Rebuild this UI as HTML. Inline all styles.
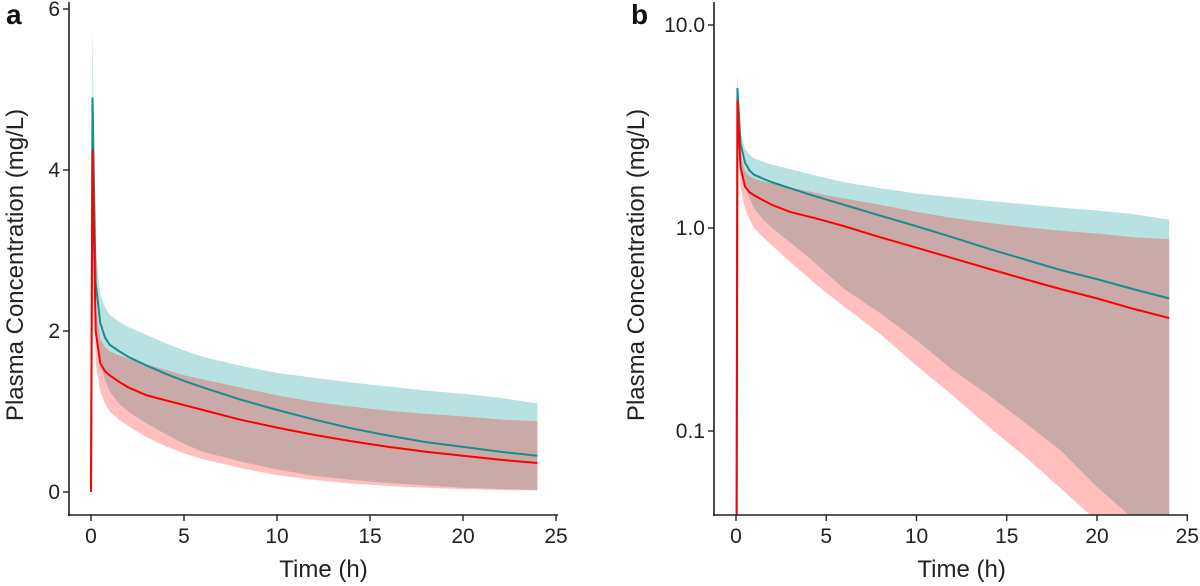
<!DOCTYPE html>
<html><head><meta charset="utf-8"><style>
html,body{margin:0;background:#fff;overflow:hidden;width:1200px;height:586px}
svg{display:block;font-family:"Liberation Sans",Arial,sans-serif}
</style></head><body>
<svg width="1200" height="586" viewBox="0 0 1200 586">
<defs>
<clipPath id="clipB"><rect x="715" y="0" width="480" height="515"/></clipPath>
</defs>
<g id="panelA"></g>
<g id="panelB"></g>
</svg>
<script>
const times=[0,0.08,0.25,0.5,0.75,1,1.5,2,3,4,5,6,8,10,12,14,16,18,20,22,24];
const tealMedian=[0,4.9,2.6,2.1,1.92,1.83,1.75,1.68,1.57,1.47,1.38,1.3,1.15,1.02,0.9,0.79,0.7,0.62,0.56,0.5,0.45];
const tealUpper=[0,5.8,3.0,2.45,2.3,2.2,2.12,2.05,1.95,1.85,1.76,1.68,1.57,1.48,1.42,1.36,1.31,1.26,1.22,1.17,1.1];
const tealLower=[0,4.0,2.0,1.6,1.4,1.25,1.1,1.0,0.85,0.72,0.6,0.5,0.38,0.28,0.2,0.15,0.11,0.08,0.053,0.037,0.027];
const redMedian=[0,4.25,2.0,1.6,1.5,1.45,1.37,1.3,1.2,1.14,1.08,1.02,0.9,0.8,0.71,0.63,0.56,0.5,0.45,0.4,0.36];
const redUpper=[0,4.3,2.3,1.9,1.8,1.75,1.7,1.66,1.58,1.52,1.45,1.4,1.3,1.2,1.12,1.06,1.01,0.97,0.94,0.9,0.88];
const redLower=[0,3.6,1.6,1.25,1.1,1.0,0.9,0.82,0.68,0.57,0.48,0.41,0.3,0.21,0.15,0.105,0.075,0.052,0.036,0.025,0.018];
const xTicks=[0,5,10,15,20,25];
const yTicksA=[0,2,4,6];
const yTicksB=[0.1,1.0,10.0];
const yTickLabelsB=["0.1","1.0","10.0"];

const NS="http://www.w3.org/2000/svg";
function mk(parent,tag,attrs,text){const e=document.createElementNS(NS,tag);for(const k in attrs)e.setAttribute(k,attrs[k]);if(text!==undefined)e.textContent=text;parent.appendChild(e);return e;}

function drawPanel(g,cfg){
  const {xs,ys,axisX,axisY,xEnd,yTop,label,labelX,titleX,yTicks,yLabels,clip}=cfg;
  const plot=mk(g,'g',{});
  if(clip)plot.setAttribute('clip-path','url(#'+clip+')');
  function band(up,lo,fill,name){
    let d='';
    times.forEach((t,i)=>{d+=(i?'L':'M')+xs(t).toFixed(2)+','+ys(up[i]).toFixed(2);});
    for(let i=times.length-1;i>=0;i--)d+='L'+xs(times[i]).toFixed(2)+','+ys(lo[i]).toFixed(2);
    const p=mk(plot,'path',{d:d+'Z',fill:fill,stroke:'none'});
    
    
  }
  function line(v,color,name){
    let d='';
    times.forEach((t,i)=>{d+=(i?'L':'M')+xs(t).toFixed(2)+','+ys(v[i]).toFixed(2);});
    const p=mk(plot,'path',{d:d,fill:'none',stroke:color,'stroke-width':2});
    
    
  }
  band(tealUpper,tealLower,'rgba(0,150,150,0.28)','teal-band');
  band(redUpper,redLower,'rgba(255,0,0,0.25)','red-band');
  line(tealMedian,'#1a8c8c','teal-median-line');
  line(redMedian,'#ff0000','red-median-line');
  const ax=mk(g,'g',{});
  
  
  mk(ax,'line',{x1:axisX,y1:yTop,x2:axisX,y2:axisY+1,stroke:'#222','stroke-width':1.6});
  mk(ax,'line',{x1:axisX-1,y1:axisY,x2:xEnd,y2:axisY,stroke:'#222','stroke-width':1.6});
  xTicks.forEach(t=>{
    const x=xs(t);
    mk(ax,'line',{x1:x,y1:axisY,x2:x,y2:axisY+6,stroke:'#222','stroke-width':1.4});
    const tx=mk(ax,'text',{x:x,y:axisY+28,'text-anchor':'middle','font-size':21,fill:'#222'},String(t));
    
    
  });
  yTicks.forEach((v,i)=>{
    const y=ys(v);
    mk(ax,'line',{x1:axisX-6,y1:y,x2:axisX,y2:y,stroke:'#222','stroke-width':1.4});
    const tx=mk(ax,'text',{x:axisX-9,y:y+7,'text-anchor':'end','font-size':21,fill:'#222'},yLabels[i]);
    
    
  });
  const xt=mk(g,'text',{x:(xs(0)+xs(25))/2,y:577,'text-anchor':'middle','font-size':24,fill:'#222'},'Time (h)');
  
  
  const yt=mk(g,'text',{x:0,y:0,'text-anchor':'middle','font-size':24,fill:'#222',transform:'translate('+titleX+',265) rotate(-90)'},'Plasma Concentration (mg/L)');
  
  
  const pl=mk(g,'text',{x:labelX,y:24,'font-size':28,'font-weight':'bold',fill:'#111'},label);
  
  
}

drawPanel(document.getElementById('panelA'),{
  xs:t=>91+t*18.6, ys:v=>492-v*80.5, axisX:69, axisY:515, xEnd:558, yTop:2,
  label:'a', labelX:6, titleX:23, yTicks:yTicksA, yLabels:yTicksA.map(String)
});
drawPanel(document.getElementById('panelB'),{
  xs:t=>736+t*18.05, ys:v=>228-203*Math.log10(Math.max(v,0.001)), axisX:714, axisY:515, xEnd:1188, yTop:2,
  label:'b', labelX:631, titleX:644, yTicks:yTicksB, yLabels:yTickLabelsB, clip:'clipB'
});
</script>
</body></html>
